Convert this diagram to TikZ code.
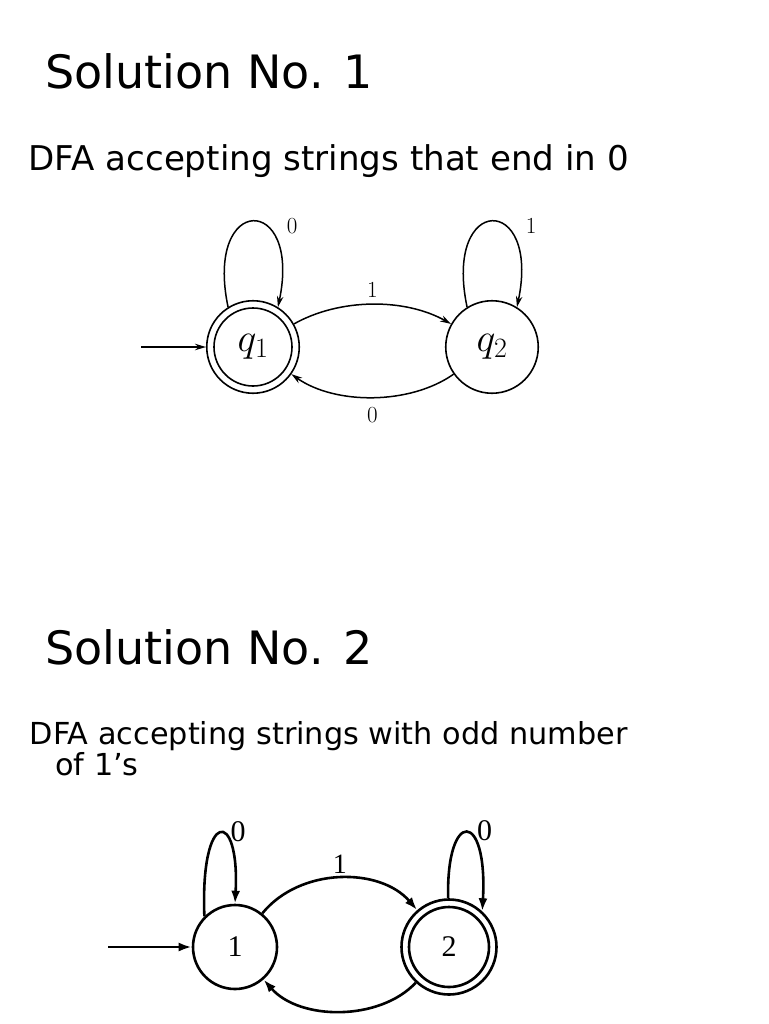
\documentclass[tikz,border=0pt]{standalone}
\usepackage{fix-cm}
\usepackage{fontspec}
\setmainfont{DejaVu Sans}
\newfontfamily\timesfont{Liberation Serif}
\usetikzlibrary{arrows.meta}

\begin{document}
\begin{tikzpicture}[x=1pt,y=-1pt,
  txt/.style={anchor=base west,inner sep=0pt,font=\fontsize{#1}{31}\selectfont},
  state1/.style={circle,draw,line width=1.6pt,minimum size=#1,inner sep=0pt,font=\fontsize{40}{44}\selectfont},
  final1/.style={path picture={\draw[line width=1.6pt] (path picture bounding box.center) circle[radius=39pt];}},
  tr1/.style={-{Stealth[length=11pt,width=6.5pt]},line width=1.5pt},
  lab1/.style={font=\fontsize{23}{26}\selectfont},
  state2/.style={circle,draw,line width=2.6pt,minimum size=#1,inner sep=0pt,font=\timesfont\fontsize{30}{36}\selectfont},
  final2/.style={path picture={\draw[line width=2.6pt] (path picture bounding box.center) circle[radius=40pt];}},
  tr2/.style={-{Latex[length=13pt,width=9pt]},line width=2.6pt},
  lab2/.style={font=\timesfont\fontsize{30}{36}\selectfont}]
\fill[white] (0,0) rectangle (768,1024);
\useasboundingbox (0,0) rectangle (768,1024);

%solution 1
\node[txt=46] (title1) at (45,89) {Solution No. 1};
\node[txt=34.1] (sub1) at (28.5,171) {DFA accepting strings that end in 0};

\node[state1=92.5pt,final1] (q1) at (253,347) {$q_1$};
\node[state1=92.5pt] (q2) at (492,347) {$q_2$};
\coordinate (s1) at (141,347);
\draw[tr1] (s1)--(q1);
\draw[tr1] (q1.122) .. controls (204,193) and (302,193) .. (q1.58) node[lab1,pos=0.62,anchor=west,xshift=17pt] {$0$};
\draw[tr1] (q2.122) .. controls (443,193) and (541,193) .. (q2.58) node[lab1,pos=0.62,anchor=west,xshift=17pt] {$1$};
\draw[tr1] (q1) .. controls (340,298) and (405,298) .. (q2) node[lab1,midway,above,yshift=3pt] {$1$};
\draw[tr1] (q2) .. controls (410,405) and (335,405) .. (q1) node[lab1,midway,below,yshift=-6pt] {$0$};

%solution 2
\node[txt=46] (title2) at (45,664) {Solution No. 2};
\node[txt=30.3,align=left] (sub2) at (29.7,775) {DFA accepting strings with odd number\\\hspace*{25.3pt}of 1’s};

\node[state2=84pt] (n1) at (235,947) {1};
\node[state2=95pt,final2] (n2) at (449,947) {2};
\coordinate (s2) at (108,947);
\draw[tr2] (s2)--(n1);
\draw[tr2] (n1.135) .. controls (200,808) and (240,808) .. (n1.90) node[lab2,pos=0.5,anchor=west,xshift=6pt,yshift=2pt] {0};
\draw[tr2] (n2.91) .. controls (446,809) and (488,809) .. (n2.47) node[lab2,pos=0.5,anchor=west,xshift=6pt,yshift=2pt] {0};
\draw[tr2] (n1) .. controls (300,867) and (380,867) .. (n2) node[lab2,midway,above,font=\timesfont\fontsize{28}{34}\selectfont] {1};
\draw[tr2] (n2) .. controls (380,1021) and (300,1021) .. (n1);
\end{tikzpicture}
\end{document}
